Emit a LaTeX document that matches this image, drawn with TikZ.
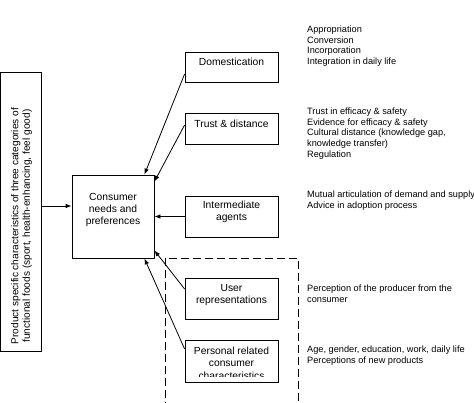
\documentclass[tikz,border=0pt]{standalone}
\usepackage{fontspec}
\setmainfont{Liberation Sans}
\usetikzlibrary{arrows.meta}
\begin{document}
\begin{tikzpicture}[x=1pt,y=-1pt,
  box/.style={draw, line width=0.8pt, inner sep=0pt},
  boxtext/.style={inner sep=0pt, align=center, font=\fontsize{10.3}{12}\selectfont},
  sidetext/.style={inner sep=0pt, anchor=west, align=left, font=\fontsize{9.2}{10.6}\selectfont},
  conn/.style={line width=0.8pt, -{Latex[length=6pt,width=4.5pt]}},
  dashbox/.style={line width=0.8pt, dash pattern=on 8pt off 4pt}
]
\useasboundingbox (0,0) rectangle (474,402);
\clip (0,0) rectangle (474,402);

% boxes
\node[box, minimum width=41pt, minimum height=279pt] (left) at (20.5,211.5) {};
\node[inner sep=0pt, align=center, rotate=90, font=\fontsize{10.1}{11.5}\selectfont] (lefttext) at (21.5,226)
  {Product specific characteristics of three categories of\\functional foods (sport, health-enhancing, feel good)};
\node[box, minimum width=82pt, minimum height=83pt] (cons) at (113,216.5) {};
\node[boxtext] (constext) at (113,210) {Consumer\\needs and\\preferences};

\node[box, minimum width=93pt, minimum height=30pt] (dom) at (231.5,67) {};
\node[boxtext] (domtext) at (231.5,62) {Domestication};
\node[box, minimum width=93pt, minimum height=31pt] (trust) at (231.5,128.5) {};
\node[boxtext] (trusttext) at (231.5,124) {Trust \& distance};
\node[box, minimum width=93pt, minimum height=41pt] (inter) at (231.5,216.5) {};
\node[boxtext] (intertext) at (231.5,212) {Intermediate\\agents};
\node[box, minimum width=93pt, minimum height=41pt] (user) at (231.5,298.5) {};
\node[boxtext] (usertext) at (231.5,295) {User\\representations};
\node[box, minimum width=93pt, minimum height=42pt] (pers) at (231.5,361) {};
\begin{scope}
  \clip (185,340) rectangle (278,376.5);
  \node[boxtext, font=\fontsize{10.3}{12.2}\selectfont] (perstext) at (231.5,363.3) {Personal related\\consumer\\characteristics};
\end{scope}

% dashed frame
\coordinate (dbl) at (165,410);
\coordinate (dtl) at (165,258);
\coordinate (dtr) at (298,258);
\coordinate (dbr) at (298,410);
\draw[dashbox] (dbl) -- (dtl) -- (dtr) -- (dbr);

% side texts
\node[sidetext] (s1) at (307,46) {Appropriation\\Conversion\\Incorporation\\Integration in daily life};
\node[sidetext] (s2) at (307,133.5) {Trust in efficacy \& safety\\Evidence for efficacy \& safety\\Cultural distance (knowledge gap,\\knowledge transfer)\\Regulation};
\node[sidetext] (s3) at (307,200.5) {Mutual articulation of demand and supply\\Advice in adoption process};
\node[sidetext] (s4) at (307,293.5) {Perception of the producer from the\\consumer};
\node[sidetext] (s5) at (307,355.5) {Age, gender, education, work, daily life\\Perceptions of new products};

% connectors
\draw[conn] ([yshift=5.5pt]left.east) -- ([yshift=5.5pt]left.east -| cons.west);
\draw[conn] ([yshift=-7pt]dom.west) -- ([xshift=-10pt]cons.north east);
\draw[conn] ([yshift=3.5pt]trust.west) -- ([yshift=-7pt]cons.north east);
\draw[conn] (inter.west) -- (inter.west -| cons.east);
\draw[conn] ([yshift=9.5pt]user.west) -- ([yshift=8pt]cons.south east);
\draw[conn] ([yshift=12pt]pers.west) -- ([xshift=-10pt]cons.south east);
\end{tikzpicture}
\end{document}
